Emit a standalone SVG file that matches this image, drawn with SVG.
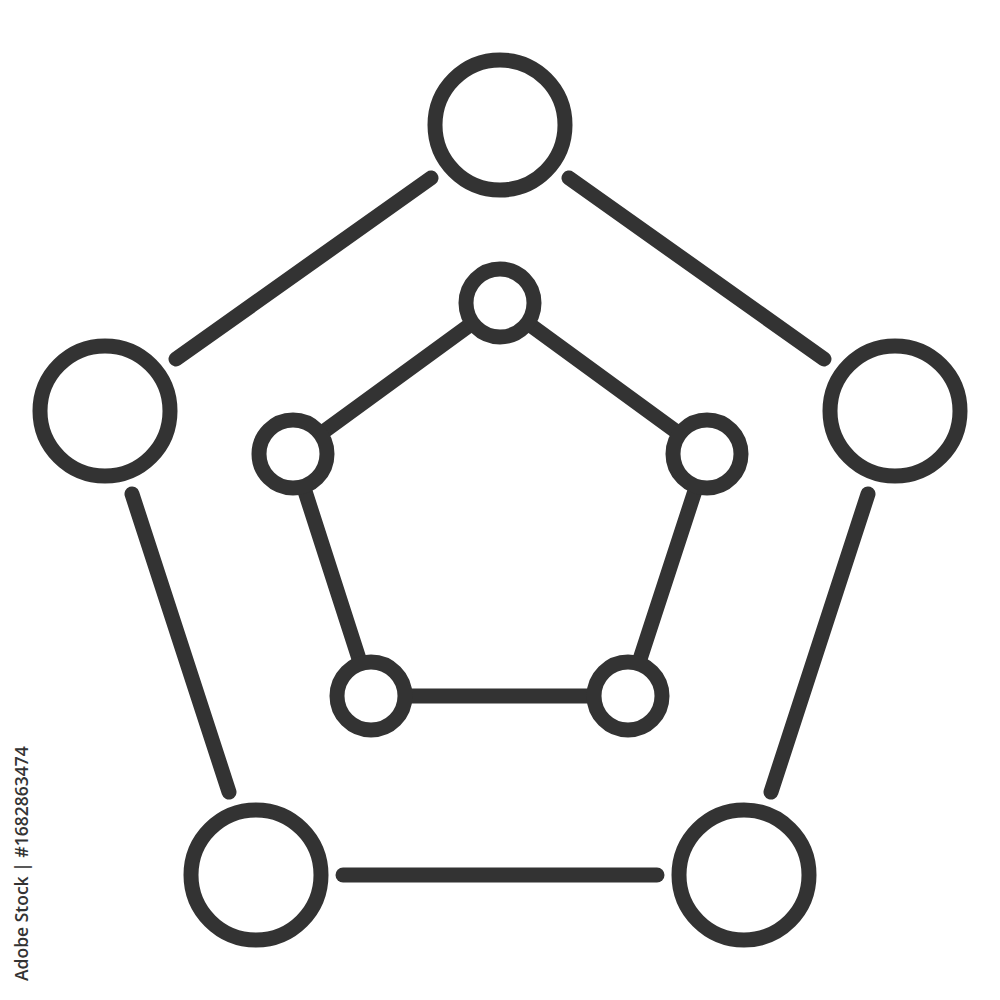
<svg xmlns="http://www.w3.org/2000/svg" width="1000" height="1000" viewBox="0 0 1000 1000">
<style>
.edge{stroke:#333;stroke-width:15;stroke-linecap:round;fill:none}
.big{fill:#fff;stroke:#333;stroke-width:15}
.small{fill:#fff;stroke:#333;stroke-width:15}
.credit{font-family:"Open Sans","DejaVu Sans",sans-serif;font-size:17.5px;font-weight:600;fill:#333}
</style>
<rect width="1000" height="1000" fill="#fff"/>
<g id="connectors">
<line class="edge" x1="431" y1="178" x2="176" y2="359"/>
<line class="edge" x1="569" y1="178" x2="824" y2="359"/>
<line class="edge" x1="132" y1="494" x2="229" y2="792"/>
<line class="edge" x1="868" y1="494" x2="771" y2="792"/>
<line class="edge" x1="343" y1="875" x2="657" y2="875"/>
<line class="edge" x1="500" y1="303" x2="293" y2="454"/>
<line class="edge" x1="500" y1="303" x2="707" y2="454"/>
<line class="edge" x1="293" y1="454" x2="371" y2="696"/>
<line class="edge" x1="707" y1="454" x2="628" y2="696"/>
<line class="edge" x1="371" y1="696" x2="628" y2="696"/>
</g>
<g id="outer-top"><circle class="big" cx="500" cy="125" r="65"/></g>
<g id="outer-left"><circle class="big" cx="105" cy="411" r="65"/></g>
<g id="outer-right"><circle class="big" cx="895" cy="411" r="65"/></g>
<g id="outer-bottom-left"><circle class="big" cx="256" cy="875" r="65"/></g>
<g id="outer-bottom-right"><circle class="big" cx="744" cy="875" r="65"/></g>
<g id="inner-top"><circle class="small" cx="500" cy="303" r="34"/></g>
<g id="inner-left"><circle class="small" cx="293" cy="454" r="34"/></g>
<g id="inner-right"><circle class="small" cx="707" cy="454" r="34"/></g>
<g id="inner-bottom-left"><circle class="small" cx="371" cy="696" r="34"/></g>
<g id="inner-bottom-right"><circle class="small" cx="628" cy="696" r="34"/></g>
<text class="credit" transform="translate(28 981) rotate(-90)">Adobe Stock | #1682863474</text>
</svg>
